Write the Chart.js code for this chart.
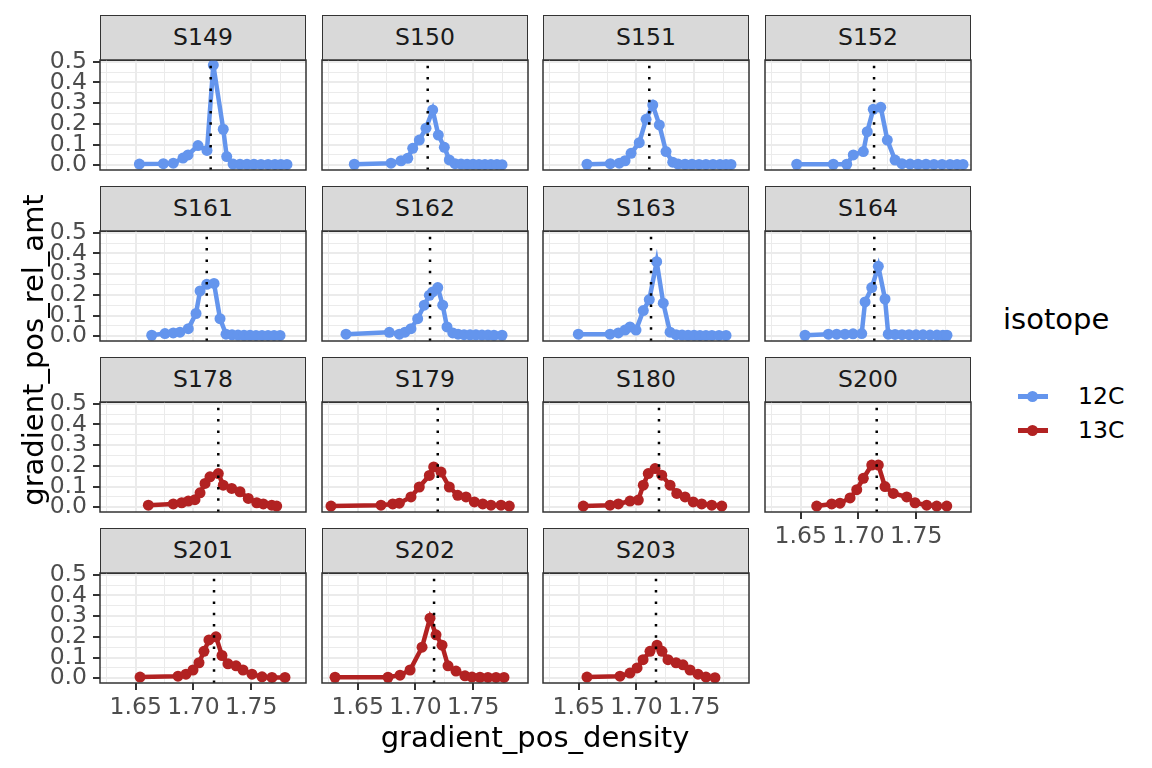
<!DOCTYPE html>
<html>
<head>
<meta charset="utf-8">
<script src="https://cdn.jsdelivr.net/npm/chart.js@4.4.0/dist/chart.umd.min.js"></script>
<style>
  body { margin: 0; background: #fff; font-family: "DejaVu Sans", sans-serif; }
  #wrap { position: relative; width: 1152px; height: 768px; overflow: hidden; background: #fff; }
  canvas { position: absolute; }
  .strip { position: absolute; box-sizing: border-box; height: 46px; background: #d9d9d9; border: 1.5px solid #333;
           color: #1a1a1a; font-size: 23.5px; line-height: 43px; text-align: center; }
  .title { position: absolute; color: #000; font-size: 29px; white-space: nowrap; }
  #ytitle { transform: rotate(-90deg); transform-origin: center center; }
  .lg-title { position: absolute; left: 1003px; top: 302px; font-size: 29px; color: #000; }
  .lg-row { position: absolute; left: 1018px; height: 24px; font-size: 23.5px; color: #000; line-height: 24px; }
  .lg-row .line { position: absolute; left: 0; top: 10px; width: 30px; height: 4.5px; }
  .lg-row .dot { position: absolute; left: 9px; top: 6.5px; width: 11px; height: 11px; border-radius: 50%; }
  .lg-row .lab { position: absolute; left: 60px; top: 0; }
</style>
</head>
<body>
<div id="wrap"></div>
<script>
// axis ranges and ticks
const XMIN = 1.619, XMAX = 1.7975;
const YMIN = -0.0227, YMAX = 0.5082;
const xTicks = [1.625, 1.65, 1.675, 1.7, 1.725, 1.75, 1.775];
const xLabels = [1.65, 1.70, 1.75];
const yTicks = [0, 0.05, 0.1, 0.15, 0.2, 0.25, 0.3, 0.35, 0.4, 0.45, 0.5];
const yLabels = [0, 0.1, 0.2, 0.3, 0.4, 0.5];

const samples = ["S149", "S150", "S151", "S152", "S161", "S162", "S163", "S164",
                 "S178", "S179", "S180", "S200", "S201", "S202", "S203"];
const isotope = ["12C", "12C", "12C", "12C", "12C", "12C", "12C", "12C",
                 "13C", "13C", "13C", "13C", "13C", "13C", "13C"];
// dotted reference line per sample
const peakDensity = [1.7149, 1.7106, 1.7111, 1.7135, 1.7115, 1.7126, 1.7126, 1.7137,
                     1.7215, 1.7193, 1.7195, 1.7158, 1.7178, 1.7161, 1.7169];

const densS149 = [1.6531, 1.6739, 1.6825, 1.6909, 1.6953, 1.7039, 1.7117, 1.7172, 1.7258, 1.7288, 1.7343, 1.7403, 1.7464, 1.7524, 1.7585, 1.7646, 1.7706, 1.7758, 1.781];
const amtS149 = [0.006, 0.008, 0.010, 0.035, 0.050, 0.095, 0.072, 0.484, 0.174, 0.042, 0.006, 0.005, 0.005, 0.005, 0.004, 0.004, 0.004, 0.004, 0.004];
const densS150 = [1.647, 1.6788, 1.6875, 1.6933, 1.6976, 1.7033, 1.7091, 1.7149, 1.7198, 1.725, 1.7293, 1.7343, 1.7395, 1.7447, 1.7499, 1.755, 1.7602, 1.7654, 1.7706, 1.775];
const amtS150 = [0.005, 0.010, 0.022, 0.034, 0.082, 0.122, 0.179, 0.267, 0.146, 0.087, 0.026, 0.008, 0.006, 0.005, 0.005, 0.004, 0.004, 0.004, 0.004, 0.003];
const densS151 = [1.6571, 1.6773, 1.6851, 1.6901, 1.6953, 1.7024, 1.7083, 1.7141, 1.7198, 1.7256, 1.7314, 1.736, 1.7421, 1.7481, 1.7542, 1.7602, 1.7663, 1.7724, 1.7776, 1.7819];
const amtS151 = [0.005, 0.008, 0.010, 0.022, 0.058, 0.109, 0.222, 0.291, 0.195, 0.066, 0.015, 0.006, 0.005, 0.005, 0.004, 0.004, 0.004, 0.004, 0.004, 0.004];
const densS152 = [1.6465, 1.6782, 1.6898, 1.6955, 1.7042, 1.7076, 1.7128, 1.7193, 1.725, 1.7317, 1.7377, 1.7447, 1.7516, 1.7585, 1.7654, 1.7724, 1.7793, 1.7854, 1.7906];
const amtS152 = [0.005, 0.005, 0.005, 0.050, 0.066, 0.162, 0.270, 0.280, 0.122, 0.025, 0.008, 0.006, 0.005, 0.005, 0.004, 0.004, 0.004, 0.004, 0.004];
const densS161 = [1.6638, 1.6753, 1.6825, 1.6883, 1.6955, 1.7022, 1.7057, 1.7115, 1.7178, 1.723, 1.7282, 1.7334, 1.7386, 1.7438, 1.749, 1.7542, 1.7594, 1.7646, 1.7698, 1.775];
const amtS161 = [0.005, 0.013, 0.016, 0.020, 0.037, 0.110, 0.219, 0.251, 0.255, 0.085, 0.010, 0.007, 0.006, 0.005, 0.005, 0.004, 0.004, 0.004, 0.004, 0.004];
const densS162 = [1.6398, 1.6773, 1.686, 1.6909, 1.6961, 1.7019, 1.7076, 1.712, 1.7149, 1.7193, 1.7236, 1.7273, 1.7323, 1.7369, 1.7421, 1.7473, 1.7524, 1.7576, 1.7628, 1.768, 1.775];
const amtS162 = [0.010, 0.019, 0.010, 0.020, 0.037, 0.085, 0.150, 0.198, 0.214, 0.235, 0.150, 0.045, 0.016, 0.010, 0.008, 0.007, 0.007, 0.006, 0.006, 0.005, 0.005];
const densS163 = [1.6496, 1.6771, 1.6843, 1.6901, 1.6944, 1.6996, 1.7059, 1.7111, 1.7175, 1.7232, 1.7291, 1.7343, 1.7395, 1.7447, 1.7499, 1.755, 1.7602, 1.7654, 1.7715, 1.7776];
const amtS163 = [0.010, 0.010, 0.016, 0.030, 0.045, 0.030, 0.124, 0.177, 0.360, 0.160, 0.020, 0.008, 0.006, 0.005, 0.005, 0.004, 0.004, 0.004, 0.004, 0.004];
const densS164 = [1.6537, 1.6739, 1.6811, 1.6883, 1.6953, 1.7028, 1.7057, 1.7115, 1.7172, 1.723, 1.7258, 1.7317, 1.7377, 1.7438, 1.7499, 1.7559, 1.762, 1.768, 1.7732, 1.7767];
const amtS164 = [0.005, 0.010, 0.010, 0.010, 0.012, 0.013, 0.166, 0.235, 0.338, 0.180, 0.010, 0.009, 0.008, 0.008, 0.007, 0.007, 0.006, 0.006, 0.005, 0.005];
const densS178 = [1.6609, 1.6825, 1.6898, 1.6955, 1.7013, 1.7057, 1.71, 1.7143, 1.7215, 1.7258, 1.7331, 1.7403, 1.7475, 1.7548, 1.7605, 1.7678, 1.7721];
const amtS178 = [0.010, 0.016, 0.022, 0.030, 0.037, 0.070, 0.115, 0.147, 0.163, 0.107, 0.091, 0.075, 0.043, 0.022, 0.016, 0.010, 0.006];
const densS179 = [1.6268, 1.6701, 1.6803, 1.686, 1.6961, 1.7033, 1.712, 1.7158, 1.7221, 1.7293, 1.7366, 1.7438, 1.751, 1.7583, 1.7654, 1.7741, 1.7813];
const amtS179 = [0.006, 0.010, 0.016, 0.020, 0.050, 0.098, 0.154, 0.195, 0.170, 0.098, 0.058, 0.050, 0.026, 0.016, 0.010, 0.010, 0.006];
const densS180 = [1.6539, 1.6771, 1.6843, 1.6944, 1.7016, 1.7059, 1.7102, 1.7161, 1.7219, 1.7291, 1.7349, 1.7421, 1.7492, 1.7565, 1.7652, 1.7739];
const amtS180 = [0.006, 0.010, 0.016, 0.030, 0.035, 0.107, 0.163, 0.187, 0.155, 0.107, 0.067, 0.050, 0.026, 0.016, 0.010, 0.006];
const densS200 = [1.6638, 1.6768, 1.684, 1.6927, 1.6985, 1.7042, 1.7115, 1.7172, 1.723, 1.7302, 1.7418, 1.749, 1.7591, 1.7678, 1.7765];
const amtS200 = [0.006, 0.016, 0.020, 0.045, 0.085, 0.140, 0.204, 0.204, 0.100, 0.067, 0.050, 0.022, 0.010, 0.006, 0.006];
const densS201 = [1.6537, 1.6866, 1.6935, 1.6996, 1.7048, 1.7091, 1.7134, 1.7195, 1.7247, 1.7299, 1.7369, 1.7429, 1.7507, 1.7594, 1.768, 1.7793];
const amtS201 = [0.006, 0.010, 0.020, 0.040, 0.075, 0.130, 0.185, 0.200, 0.110, 0.070, 0.060, 0.040, 0.020, 0.007, 0.004, 0.004];
const densS202 = [1.6303, 1.6762, 1.6866, 1.6953, 1.7057, 1.7126, 1.7178, 1.723, 1.7282, 1.7351, 1.7429, 1.749, 1.7559, 1.7628, 1.7698, 1.7767];
const amtS202 = [0.005, 0.005, 0.015, 0.040, 0.150, 0.290, 0.210, 0.160, 0.060, 0.035, 0.012, 0.006, 0.005, 0.004, 0.004, 0.004];
const densS203 = [1.6571, 1.6857, 1.6944, 1.7005, 1.7057, 1.7117, 1.7178, 1.7221, 1.7273, 1.7343, 1.7403, 1.7464, 1.7533, 1.7602, 1.768];
const amtS203 = [0.006, 0.010, 0.025, 0.050, 0.090, 0.130, 0.160, 0.130, 0.090, 0.075, 0.065, 0.040, 0.020, 0.006, 0.003];

const series = {
  S149: [densS149, amtS149], S150: [densS150, amtS150], S151: [densS151, amtS151], S152: [densS152, amtS152],
  S161: [densS161, amtS161], S162: [densS162, amtS162], S163: [densS163, amtS163], S164: [densS164, amtS164],
  S178: [densS178, amtS178], S179: [densS179, amtS179], S180: [densS180, amtS180], S200: [densS200, amtS200],
  S201: [densS201, amtS201], S202: [densS202, amtS202], S203: [densS203, amtS203],
};

const isotopeColors = { "12C": "#6495ED", "13C": "#B22222" };

// facet layout (page pixels)
const colLeft = [100, 322, 543, 765];
const plotTop = [60, 231, 402, 573];
const PW = 206, PH = 110, STRIP = 46, M = 20;

const wrap = document.getElementById("wrap");

function near(v, list) {
  return list.some((t) => Math.abs(t - v) < 1e-6);
}

const panelBorder = {
  id: "panelBorder",
  afterDatasetsDraw(chart) {
    const a = chart.chartArea;
    const ctx = chart.ctx;
    ctx.save();
    ctx.strokeStyle = "#333333";
    ctx.lineWidth = 1.5;
    ctx.strokeRect(a.left, a.top, a.right - a.left, a.bottom - a.top);
    ctx.restore();
  },
};

samples.forEach((name, i) => {
  const row = Math.floor(i / 4);
  const col = i % 4;
  const showY = col === 0;
  const showX = row === 3 || name === "S200";
  const left = colLeft[col];
  const top = plotTop[row];

  // strip header
  const strip = document.createElement("div");
  strip.className = "strip";
  strip.style.left = left + "px";
  strip.style.top = (top - STRIP + 1) + "px";
  strip.style.width = PW + "px";
  strip.textContent = name;
  wrap.appendChild(strip);

  const yW = showY ? 100 : 0;
  const padL = showY ? 0 : M;
  const xH = showX ? 50 : 0;
  const padB = showX ? 0 : M;
  const canvas = document.createElement("canvas");
  canvas.width = padL + yW + PW + M;
  canvas.height = M + PH + xH + padB;
  canvas.style.left = (left - yW - padL) + "px";
  canvas.style.top = (top - M) + "px";
  wrap.appendChild(canvas);

  const [xs, ys] = series[name];
  const color = isotopeColors[isotope[i]];
  const pts = xs.map((x, k) => ({ x: x, y: ys[k] }));

  new Chart(canvas, {
    type: "line",
    data: {
      datasets: [
        {
          data: [{ x: peakDensity[i], y: YMIN }, { x: peakDensity[i], y: YMAX }],
          borderColor: "#000",
          borderWidth: 2.5,
          borderDash: [2.5, 8.8],
          pointRadius: 0,
          order: 0,
        },
        {
          data: pts,
          borderColor: color,
          backgroundColor: color,
          borderWidth: 4.5,
          pointRadius: 5.5,
          pointBorderWidth: 0,
          pointBackgroundColor: color,
          tension: 0,
          order: 1,
        },
      ],
    },
    options: {
      responsive: false,
      animation: false,
      events: [],
      layout: { padding: { left: padL, right: M, top: M, bottom: padB } },
      plugins: { legend: { display: false }, tooltip: { enabled: false } },
      scales: {
        x: {
          type: "linear",
          min: XMIN,
          max: XMAX,
          bounds: "data",
          afterBuildTicks: (s) => { s.ticks = xTicks.map((v) => ({ value: v })); },
          afterFit: (s) => { s.height = xH; s.paddingLeft = 0; s.paddingRight = 0; },
          border: { display: false },
          grid: {
            color: "#ebebeb",
            lineWidth: (c) => (near(c.tick.value, xLabels) ? 2 : 1),
            drawTicks: showX,
            tickLength: 7,
            tickWidth: 2,
            tickColor: (c) => (near(c.tick.value, xLabels) ? "#333333" : "rgba(0,0,0,0)"),
          },
          ticks: {
            display: showX,
            autoSkip: false,
            maxRotation: 0,
            padding: 4,
            color: "#4d4d4d",
            font: { family: "DejaVu Sans", size: 23.5 },
            callback: (v) => (near(v, xLabels) ? v.toFixed(2) : ""),
          },
        },
        y: {
          type: "linear",
          min: YMIN,
          max: YMAX,
          bounds: "data",
          afterBuildTicks: (s) => { s.ticks = yTicks.map((v) => ({ value: v })); },
          afterFit: (s) => { s.width = yW; s.paddingTop = 0; s.paddingBottom = 0; },
          border: { display: false },
          grid: {
            color: "#ebebeb",
            lineWidth: (c) => (near(c.tick.value, yLabels) ? 2 : 1),
            drawTicks: showY,
            tickLength: 7,
            tickWidth: 2,
            tickColor: (c) => (near(c.tick.value, yLabels) ? "#333333" : "rgba(0,0,0,0)"),
          },
          ticks: {
            display: showY,
            autoSkip: false,
            padding: 6,
            color: "#4d4d4d",
            font: { family: "DejaVu Sans", size: 23.5 },
            callback: (v) => (near(v, yLabels) ? v.toFixed(1) : ""),
          },
        },
      },
    },
    plugins: [panelBorder],
  });
});

// axis titles
const xt = document.createElement("div");
xt.className = "title";
xt.textContent = "gradient_pos_density";
xt.style.left = "0px";
xt.style.width = "1070px";
xt.style.textAlign = "center";
xt.style.top = "720px";
wrap.appendChild(xt);

const yt = document.createElement("div");
yt.className = "title";
yt.id = "ytitle";
yt.textContent = "gradient_pos_rel_amt";
yt.style.width = "400px";
yt.style.textAlign = "center";
yt.style.left = (33 - 200) + "px";
yt.style.top = (350 - 17) + "px";
wrap.appendChild(yt);

// legend
const lgTitle = document.createElement("div");
lgTitle.className = "lg-title";
lgTitle.textContent = "isotope";
wrap.appendChild(lgTitle);
["12C", "13C"].forEach((iso, k) => {
  const r = document.createElement("div");
  r.className = "lg-row";
  r.style.top = (384 + k * 34) + "px";
  const c = isotopeColors[iso];
  r.innerHTML = '<span class="line" style="background:' + c + '"></span>' +
                '<span class="dot" style="background:' + c + '"></span>' +
                '<span class="lab">' + iso + "</span>";
  wrap.appendChild(r);
});
</script>
</body>
</html>
